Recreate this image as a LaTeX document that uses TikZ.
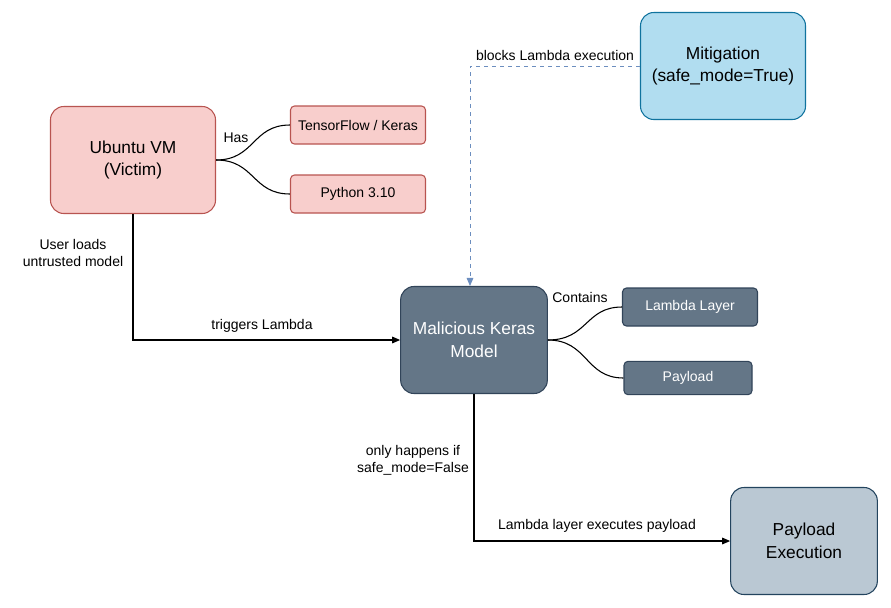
\documentclass[tikz,border=0pt]{standalone}
\usepackage{fontspec}
\setmainfont{Liberation Sans}
\usetikzlibrary{arrows.meta}
\definecolor{vmFill}{RGB}{248,206,204}
\definecolor{vmLine}{RGB}{184,84,80}
\definecolor{mitFill}{RGB}{177,221,240}
\definecolor{mitLine}{RGB}{16,115,158}
\definecolor{malFill}{RGB}{100,118,135}
\definecolor{malLine}{RGB}{49,68,89}
\definecolor{exeFill}{RGB}{186,200,211}
\definecolor{exeLine}{RGB}{35,68,94}
\definecolor{dashBlue}{RGB}{108,142,191}
\tikzset{
  big/.style={draw,rounded corners=10pt,line width=0.8pt,minimum width=123.75pt,minimum height=80.25pt,align=center,font=\fontsize{13}{17}\selectfont},
  small/.style={draw,rounded corners=3pt,line width=0.8pt,minimum width=101.25pt,minimum height=28.5pt,align=center,font=\fontsize{10.5}{12}\selectfont},
  lbl/.style={font=\fontsize{10.5}{12.5}\selectfont,align=center},
  link/.style={line width=0.8pt,-{Triangle[length=6pt,width=5pt]}}
}
\begin{document}
\begin{tikzpicture}[x=0.75pt,y=0.75pt,yscale=-1,xscale=1]
        \useasboundingbox (0,0) rectangle (891,607);
        % Boxes
        \node [big,fill=vmFill,draw=vmLine] (vm) at (133,160) {Ubuntu VM\\(Victim)};
        \node [small,fill=vmFill,draw=vmLine] (tf) at (358,125) {TensorFlow / Keras};
        \node [small,fill=vmFill,draw=vmLine] (py) at (358,194) {Python 3.10};
        \node [big,fill=mitFill,draw=mitLine] (mit) at (723,66) {Mitigation\\(safe\_mode=True)};
        \node [big,fill=malFill,draw=malLine,text=white,minimum width=110pt] (mal) at (474,340) {Malicious Keras\\Model};
        \node [small,fill=malFill,draw=malLine,text=white] (lam) at (690,307) {Lambda Layer};
        \node [small,fill=malFill,draw=malLine,text=white,minimum width=96pt,minimum height=25pt] (pay) at (688,378) {Payload};
        \node [big,fill=exeFill,draw=exeLine,minimum width=110pt] (exe) at (804,541) {Payload\\Execution};
        % Has
        \draw [line width=0.8pt] (vm.east) .. controls (255,160) and (252,125) .. (tf.west);
        \draw [line width=0.8pt] (vm.east) .. controls (255,160) and (252,194) .. (py.west);
        \node [lbl] (has) at (236,138) {Has};
        % Contains
        \draw [line width=0.8pt] (mal.east) .. controls (588,340) and (585,307) .. (lam.west);
        \draw [line width=0.8pt] (mal.east) .. controls (588,340) and (585,378) .. (pay.west);
        \node [lbl] (cont) at (580,297) {Contains};
        % Loads
        \draw [link] (vm.south) |- (mal.west);
        \node [lbl] (ul) at (73,253) {User loads\\untrusted model};
        \node [lbl] (tr) at (262,326) {triggers Lambda};
        % Mitigation
        \coordinate (mc) at (470,66);
        \draw [link,dashed,draw=dashBlue,line width=0.6pt,-{Triangle[length=6pt,width=5pt,fill=dashBlue]}] (mit.west) -- (mc) -- (mal.north -| mc);
        \node [lbl,fill=white,inner sep=1pt] (bl) at (555,55) {blocks Lambda execution};
        % Execution
        \draw [link] (mal.south) |- (exe.west);
        \node [lbl] (oh) at (413,460) {only happens if\\safe\_mode=False};
        \node [lbl] (le) at (597,526) {Lambda layer executes payload};
    \end{tikzpicture}
\end{document}
